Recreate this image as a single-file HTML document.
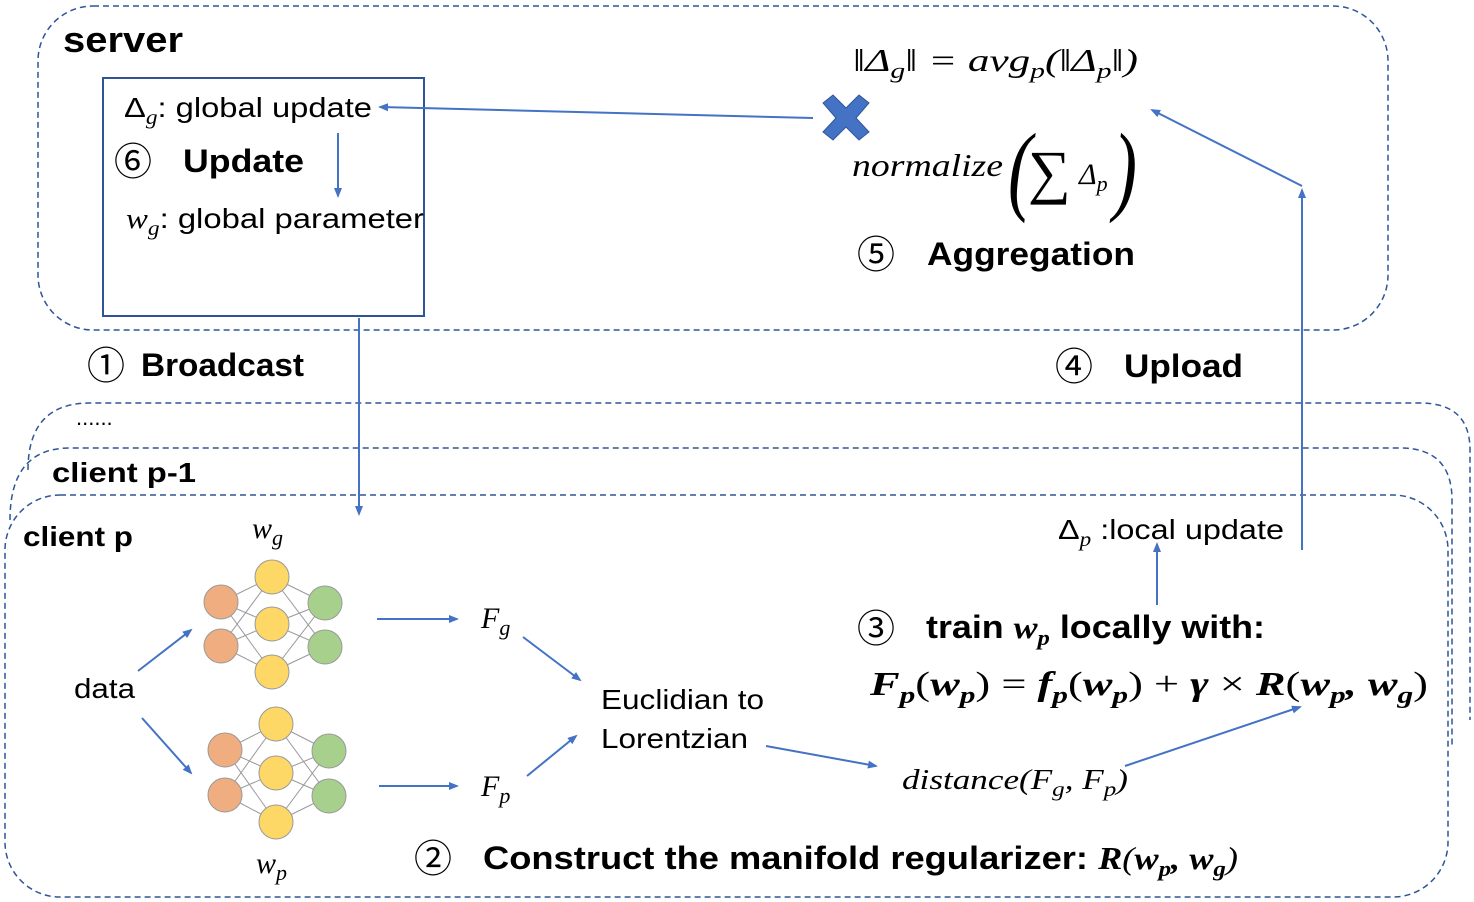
<!DOCTYPE html>
<html><head><meta charset="utf-8"><style>
html,body{margin:0;padding:0;background:#fff}
svg{display:block}
.s{font-family:"Liberation Sans","Noto Sans CJK SC",sans-serif}
.m{font-family:"Liberation Serif","DejaVu Serif",serif;font-style:italic}
.mb{font-family:"Liberation Serif","DejaVu Serif",serif;font-style:italic;font-weight:bold}
</style></head><body>
<svg width="1474" height="902" viewBox="0 0 1474 902" xmlns="http://www.w3.org/2000/svg">
<defs><marker id="a" markerWidth="10" markerHeight="10" refX="8" refY="5" orient="auto" markerUnits="userSpaceOnUse"><path d="M0,1 L10,5 L0,9 z" fill="#4472C4"/></marker></defs>
<g fill="none" stroke="#2F5597" stroke-width="1.5" stroke-dasharray="6,4">
<rect x="38" y="6" width="1350" height="324" rx="55"/>
<path d="M28,470 Q28,403 90,403 L1420,403 Q1470,403 1470,450 L1470,720"/>
<path d="M10,520 Q10,448 70,448 L1400,448 Q1452,448 1452,500 L1452,745"/>
<rect x="5" y="495" width="1443" height="402" rx="55"/>
</g>
<rect x="103" y="78" width="321" height="238" fill="none" stroke="#2F5597" stroke-width="2"/>
<g stroke="#4472C4" stroke-width="2" fill="none" marker-end="url(#a)">
<line x1="813" y1="118" x2="380" y2="107"/>
<line x1="338" y1="133" x2="338" y2="196"/>
<line x1="359" y1="318" x2="359" y2="514"/>
<line x1="1302" y1="550" x2="1302" y2="190"/>
<line x1="1302" y1="186" x2="1152" y2="110"/>
<line x1="1157" y1="605" x2="1157" y2="544"/>
<line x1="138" y1="671" x2="191" y2="630"/>
<line x1="142" y1="718" x2="191" y2="773"/>
<line x1="377" y1="619" x2="457" y2="619"/>
<line x1="379" y1="786" x2="457" y2="786"/>
<line x1="523" y1="637" x2="580" y2="680"/>
<line x1="527" y1="776" x2="576" y2="736"/>
<line x1="766" y1="746" x2="876" y2="766"/>
<line x1="1125" y1="766" x2="1300" y2="707"/>
</g>
<path d="M823,103 L833,95 L846,108 L859,95 L869,103 L856,118 L869,132 L859,140 L846,127 L833,140 L823,132 L836,118 z" fill="#4472C4" stroke="#2F5597"/>
<g stroke="#999" stroke-width="1">
<path d="M221,602L272,577M221,602L272,624M221,602L272,672M221,646L272,577M221,646L272,624M221,646L272,672M272,577L325,603M272,577L325,647M272,624L325,603M272,624L325,647M272,672L325,603M272,672L325,647"/>
<path d="M225,750L276,724M225,750L276,773M225,750L276,822M225,795L276,724M225,795L276,773M225,795L276,822M276,724L329,751M276,724L329,796M276,773L329,751M276,773L329,796M276,822L329,751M276,822L329,796"/>
</g>
<g stroke="#999" stroke-width="1">
<circle cx="221" cy="602" r="17" fill="#F0AD7F"/><circle cx="221" cy="646" r="17" fill="#F0AD7F"/>
<circle cx="272" cy="577" r="17" fill="#FDD866"/><circle cx="272" cy="624" r="17" fill="#FDD866"/><circle cx="272" cy="672" r="17" fill="#FDD866"/>
<circle cx="325" cy="603" r="17" fill="#A8D08D"/><circle cx="325" cy="647" r="17" fill="#A8D08D"/>
<circle cx="225" cy="750" r="17" fill="#F0AD7F"/><circle cx="225" cy="795" r="17" fill="#F0AD7F"/>
<circle cx="276" cy="724" r="17" fill="#FDD866"/><circle cx="276" cy="773" r="17" fill="#FDD866"/><circle cx="276" cy="822" r="17" fill="#FDD866"/>
<circle cx="329" cy="751" r="17" fill="#A8D08D"/><circle cx="329" cy="796" r="17" fill="#A8D08D"/>
</g>
<g fill="#000">
<text x="63" y="52" class="s" font-size="36" font-weight="bold" textLength="120" lengthAdjust="spacingAndGlyphs">server</text>
<text x="124" y="117" class="s" font-size="28" textLength="248" lengthAdjust="spacingAndGlyphs">Δ<tspan class="m" font-size="20" dy="7">g</tspan><tspan dy="-7">: global update</tspan></text>
<text x="114" y="175" class="s" font-size="38">⑥</text>
<text x="183" y="172" class="s" font-size="32" font-weight="bold" textLength="121" lengthAdjust="spacingAndGlyphs">Update</text>
<text x="126" y="228" class="s" font-size="28" textLength="298" lengthAdjust="spacingAndGlyphs"><tspan class="m">w</tspan><tspan class="m" font-size="20" dy="7">g</tspan><tspan dy="-7">: global parameter</tspan></text>
<text x="853" y="71" class="m" font-size="32" font-style="normal" textLength="285" lengthAdjust="spacingAndGlyphs">‖Δ<tspan font-size="22" dy="7" font-style="italic">g</tspan><tspan dy="-7">‖ = </tspan><tspan font-style="italic">avg</tspan><tspan font-style="italic" font-size="22" dy="7">p</tspan><tspan dy="-7">(‖Δ</tspan><tspan font-style="italic" font-size="22" dy="7">p</tspan><tspan dy="-7">‖)</tspan></text>
<text x="852" y="176" class="m" font-size="32" textLength="151" lengthAdjust="spacingAndGlyphs">normalize</text>
<text x="1008" y="202" class="m" font-size="100" font-style="normal" textLength="24" lengthAdjust="spacingAndGlyphs">(</text>
<text x="1028" y="192" class="m" font-size="60" font-style="normal">∑</text>
<text x="1079" y="184" class="m" font-size="30" font-style="normal">Δ<tspan font-style="italic" font-size="22" dy="7">p</tspan></text>
<text x="1113" y="202" class="m" font-size="100" font-style="normal" textLength="24" lengthAdjust="spacingAndGlyphs">)</text>
<text x="857" y="268" class="s" font-size="38">⑤</text>
<text x="927" y="265" class="s" font-size="32" font-weight="bold" textLength="208" lengthAdjust="spacingAndGlyphs">Aggregation</text>
<text x="87" y="379" class="s" font-size="38">①</text>
<text x="141" y="376" class="s" font-size="32" font-weight="bold" textLength="163" lengthAdjust="spacingAndGlyphs">Broadcast</text>
<text x="1055" y="380" class="s" font-size="38">④</text>
<text x="1124" y="377" class="s" font-size="32" font-weight="bold" textLength="119" lengthAdjust="spacingAndGlyphs">Upload</text>
<text x="76" y="425" class="s" font-size="22">......</text>
<text x="52" y="482" class="s" font-size="28" font-weight="bold" textLength="144" lengthAdjust="spacingAndGlyphs">client p-1</text>
<text x="23" y="546" class="s" font-size="28" font-weight="bold" textLength="110" lengthAdjust="spacingAndGlyphs">client p</text>
<text x="252" y="538" class="m" font-size="30">w<tspan font-size="22" dy="7">g</tspan></text>
<text x="256" y="873" class="m" font-size="30">w<tspan font-size="22" dy="7">p</tspan></text>
<text x="74" y="698" class="s" font-size="28" textLength="61" lengthAdjust="spacingAndGlyphs">data</text>
<text x="481" y="628" class="m" font-size="30">F<tspan font-size="22" dy="7">g</tspan></text>
<text x="481" y="796" class="m" font-size="30">F<tspan font-size="22" dy="7">p</tspan></text>
<text x="601" y="709" class="s" font-size="28" textLength="163" lengthAdjust="spacingAndGlyphs">Euclidian to</text>
<text x="601" y="748" class="s" font-size="28" textLength="147" lengthAdjust="spacingAndGlyphs">Lorentzian</text>
<text x="902" y="789" class="m" font-size="28" textLength="226" lengthAdjust="spacingAndGlyphs">distance(F<tspan font-size="20" dy="7">g</tspan><tspan dy="-7">, F</tspan><tspan font-size="20" dy="7">p</tspan><tspan dy="-7">)</tspan></text>
<text x="1058" y="539" class="s" font-size="28" textLength="226" lengthAdjust="spacingAndGlyphs">Δ<tspan class="m" font-size="20" dy="7">p</tspan><tspan dy="-7"> :local update</tspan></text>
<text x="857" y="642" class="s" font-size="38">③</text>
<text x="926" y="638" class="s" font-size="32" font-weight="bold" textLength="339" lengthAdjust="spacingAndGlyphs">train <tspan class="mb">w</tspan><tspan class="mb" font-size="22" dy="7">p</tspan><tspan dy="-7"> locally with:</tspan></text>
<text x="870" y="695" class="mb" font-size="34" textLength="558" lengthAdjust="spacingAndGlyphs">F<tspan font-size="24" dy="8">p</tspan><tspan dy="-8" font-style="normal" font-weight="normal">(</tspan>w<tspan font-size="24" dy="8">p</tspan><tspan dy="-8" font-style="normal" font-weight="normal">) = </tspan>f<tspan font-size="24" dy="8">p</tspan><tspan dy="-8" font-style="normal" font-weight="normal">(</tspan>w<tspan font-size="24" dy="8">p</tspan><tspan dy="-8" font-style="normal" font-weight="normal">) + </tspan>γ<tspan font-style="normal" font-weight="normal"> × </tspan>R<tspan font-style="normal" font-weight="normal">(</tspan>w<tspan font-size="24" dy="8">p</tspan><tspan dy="-8">, w</tspan><tspan font-size="24" dy="8">g</tspan><tspan dy="-8" font-style="normal" font-weight="normal">)</tspan></text>
<text x="414" y="872" class="s" font-size="38">②</text>
<text x="483" y="869" class="s" font-size="32" font-weight="bold" textLength="755" lengthAdjust="spacingAndGlyphs">Construct the manifold regularizer: <tspan class="mb">R</tspan><tspan font-weight="normal" class="m" font-style="normal">(</tspan><tspan class="mb">w</tspan><tspan class="mb" font-size="22" dy="7">p</tspan><tspan class="mb" dy="-7">, w</tspan><tspan class="mb" font-size="22" dy="7">g</tspan><tspan dy="-7" class="m" font-style="normal" font-weight="normal">)</tspan></text>
</g>
</svg>
</body></html>
